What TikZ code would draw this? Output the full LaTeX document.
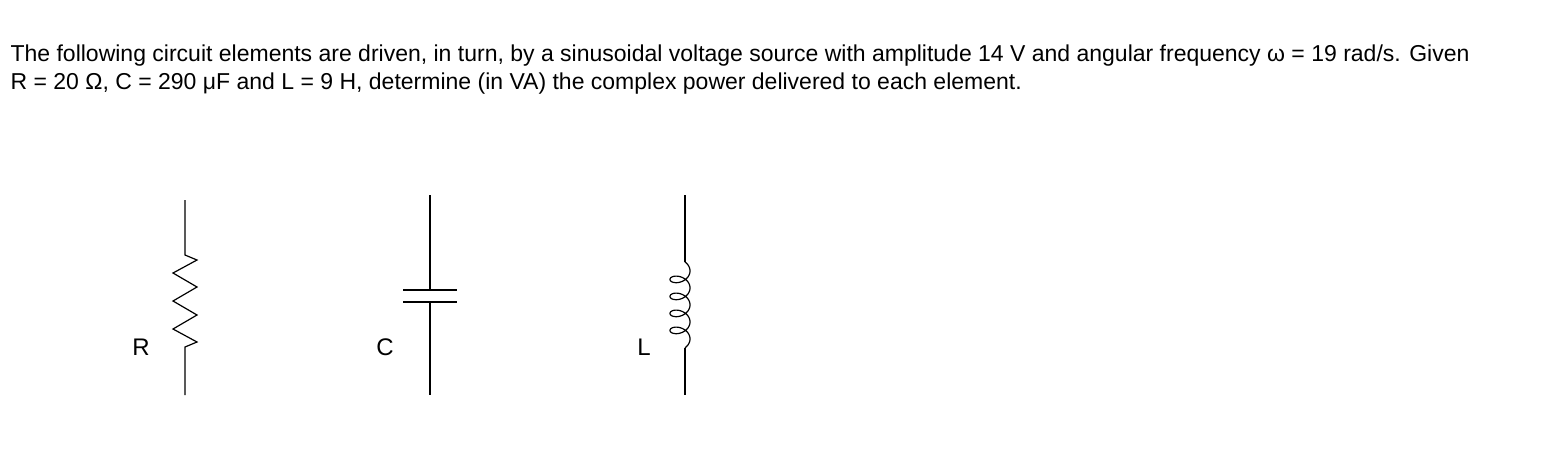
\documentclass[tikz,border=0pt]{standalone}
\usepackage{fontspec}
\setmainfont{Liberation Sans}
\begin{document}
\begin{tikzpicture}[x=1pt,y=-1pt,line width=1.2pt,
  txt/.style={anchor=base west,inner sep=0pt,font=\fontsize{23}{27}\selectfont},
  lbl/.style={anchor=center,inner sep=0pt,font=\fontsize{24}{28}\selectfont}]
\useasboundingbox (0,0) rectangle (1548,448);
\node[txt] (t1) at (10,61) {The following circuit elements are driven, in turn, by a sinusoidal voltage source with amplitude 14 V and angular frequency ω = 19 rad/s. Given};
\node[txt] (t2) at (10,89) {R = 20 Ω, C = 290 μF and L = 9 H, determine (in VA) the complex power delivered to each element.};
% resistor
\coordinate (ra) at (185,200);
\coordinate (rb) at (185,395);
\draw (ra) -- (185,255) -- (197,260) -- (173,273) -- (197,287) -- (173,301) -- (197,315) -- (173,329) -- (197,342) -- (185,347) -- (rb);
\node[lbl] (R) at (141,347) {R};
% capacitor
\coordinate (ca) at (430,195);
\coordinate (cb) at (430,395);
\draw (ca) -- (430,290) (403,290) -- (457,290) (403,302) -- (457,302) (430,302) -- (cb);
\node[lbl] (C) at (385,347) {C};
% inductor
\coordinate (la) at (685,195);
\coordinate (lb) at (685,395);
\draw (la) -- (685,262);
\begin{scope}[shift={(680,262)}]
\draw[domain=0.5236:27.7507,samples=300,smooth] plot ({10*sin(\x r)},{2.7056*(\x-0.5236)-7*(cos(\x r)-0.866)});
\end{scope}
\draw (685,347.8) -- (lb);
\node[lbl] (L) at (644,347) {L};
\end{tikzpicture}
\end{document}
